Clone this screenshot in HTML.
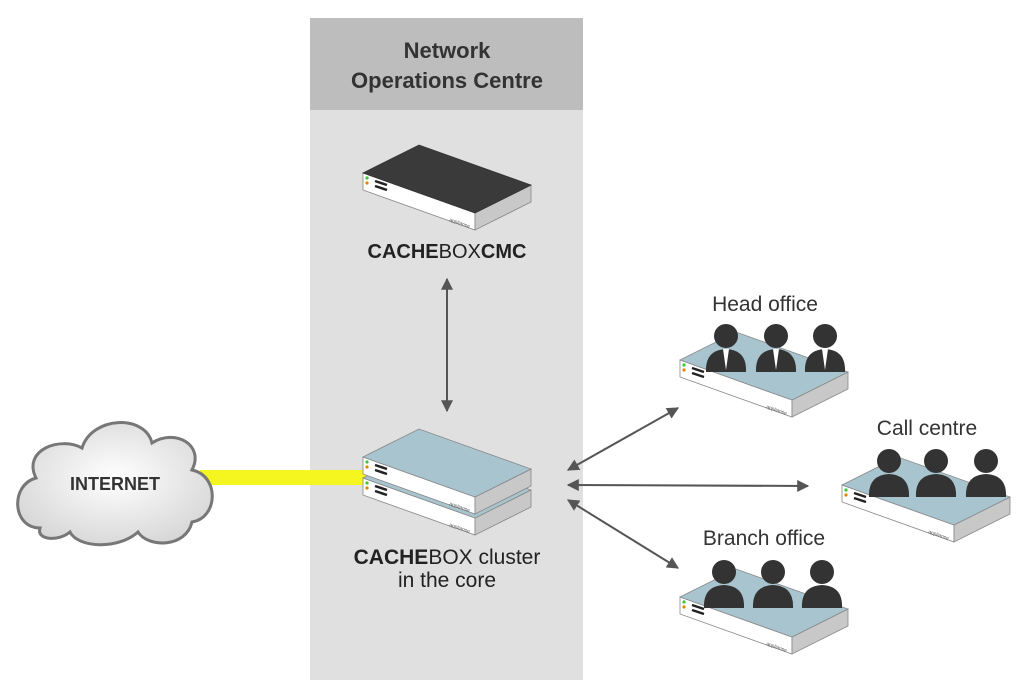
<!DOCTYPE html>
<html><head><meta charset="utf-8"><style>
html,body{margin:0;padding:0;background:#fff;}
svg{display:block;font-family:"Liberation Sans","DejaVu Sans",sans-serif;}
</style></head><body>
<svg width="1024" height="698" viewBox="0 0 1024 698" xmlns="http://www.w3.org/2000/svg">
<defs>
<radialGradient id="cg" cx="50%" cy="45%" r="60%"><stop offset="0" stop-color="#ffffff"/><stop offset="1" stop-color="#d6d6d6"/></radialGradient>
<marker id="ah" viewBox="0 0 10 10" refX="9" refY="5" markerWidth="6" markerHeight="6" orient="auto-start-reverse"><path d="M0,0 L10,5 L0,10 Z" fill="#555"/></marker>
<g id="boxbase">
 <path d="M0,0 L112,40 L112,57 L0,17 Z" fill="#fff" stroke="#888" stroke-width="0.8"/>
 <path d="M112,40 L168,12 L168,29 L112,57 Z" fill="#c8c8c8" stroke="#888" stroke-width="0.8"/>
 <circle cx="4" cy="5" r="1.6" fill="#3c3"/><circle cx="4" cy="10" r="1.6" fill="#d80"/>
 <path d="M12,8 L24,12 M12,13 L24,17" stroke="#222" stroke-width="2.5"/>
 <text x="86" y="48" font-size="5" fill="#555" transform="rotate(19 86 48)">applianse</text>
</g>
<g id="person"><circle cx="0" cy="-16" r="12" fill="#333"/><path d="M-20,20 Q-21,-2 0,-3 Q21,-2 20,20 Z" fill="#333"/></g>
</defs>
<rect x="310" y="18" width="273" height="662" fill="#e0e0e1"/>
<rect x="310" y="18" width="273" height="92" fill="#bdbdbd"/>
<text x="447" y="58" font-size="22" font-weight="bold" fill="#333" text-anchor="middle">Network</text>
<text x="447" y="88" font-size="22" font-weight="bold" fill="#333" text-anchor="middle">Operations Centre</text>

<g transform="translate(363,173)"><use href="#boxbase"/><path d="M0,0 L56,-28 L168,12 L112,40 Z" fill="#3a3a3a" stroke="#333" stroke-width="0.8"/></g>
<text x="447" y="258" font-size="20" fill="#222" text-anchor="middle"><tspan font-weight="bold">CACHE</tspan>BOX<tspan font-weight="bold">CMC</tspan></text>

<line x1="447" y1="279" x2="447" y2="411" stroke="#555" stroke-width="2" marker-start="url(#ah)" marker-end="url(#ah)"/>

<rect x="200" y="470" width="168" height="15" fill="#f5f520"/>
<path d="M40,528 C12,528 10,485 36,478 C22,450 60,436 82,448 C92,416 145,414 152,443 C175,428 205,445 192,470 C220,476 218,518 192,522 C186,548 148,548 138,532 C118,550 78,548 70,532 C58,542 36,540 40,528 Z" fill="url(#cg)" stroke="#777" stroke-width="3"/>
<text x="115" y="490" font-size="18" font-weight="bold" fill="#333" text-anchor="middle">INTERNET</text>

<g transform="translate(363,478)"><use href="#boxbase"/><path d="M0,0 L56,-28 L168,12 L112,40 Z" fill="#a8c4cf" stroke="#888" stroke-width="0.8"/></g>
<g transform="translate(363,457)"><use href="#boxbase"/><path d="M0,0 L56,-28 L168,12 L112,40 Z" fill="#a8c4cf" stroke="#888" stroke-width="0.8"/></g>
<text x="447" y="564" font-size="21" fill="#222" text-anchor="middle"><tspan font-weight="bold">CACHE</tspan>BOX cluster</text>
<text x="447" y="587" font-size="21" fill="#222" text-anchor="middle">in the core</text>

<line x1="568" y1="470" x2="678" y2="408" stroke="#555" stroke-width="2" marker-start="url(#ah)" marker-end="url(#ah)"/>
<line x1="568" y1="485" x2="808" y2="486" stroke="#555" stroke-width="2" marker-start="url(#ah)" marker-end="url(#ah)"/>
<line x1="568" y1="500" x2="678" y2="568" stroke="#555" stroke-width="2" marker-start="url(#ah)" marker-end="url(#ah)"/>

<text x="765" y="311" font-size="21" fill="#333" text-anchor="middle">Head office</text>
<g transform="translate(680,360)"><use href="#boxbase"/><path d="M0,0 L56,-28 L168,12 L112,40 Z" fill="#a8c4cf" stroke="#888" stroke-width="0.8"/></g>
<g transform="translate(726,352)"><use href="#person"/><path d="M-3,-3 L0,18 L3,-3 Z" fill="#fff"/></g>
<g transform="translate(776,352)"><use href="#person"/><path d="M-3,-3 L0,18 L3,-3 Z" fill="#fff"/></g>
<g transform="translate(825,352)"><use href="#person"/><path d="M-3,-3 L0,18 L3,-3 Z" fill="#fff"/></g>

<text x="927" y="435" font-size="21" fill="#333" text-anchor="middle">Call centre</text>
<g transform="translate(842,485)"><use href="#boxbase"/><path d="M0,0 L56,-28 L168,12 L112,40 Z" fill="#a8c4cf" stroke="#888" stroke-width="0.8"/></g>
<use href="#person" x="889" y="477"/>
<use href="#person" x="936" y="477"/>
<use href="#person" x="986" y="477"/>

<text x="764" y="545" font-size="21" fill="#333" text-anchor="middle">Branch office</text>
<g transform="translate(680,597)"><use href="#boxbase"/><path d="M0,0 L56,-28 L168,12 L112,40 Z" fill="#a8c4cf" stroke="#888" stroke-width="0.8"/></g>
<use href="#person" x="724" y="588"/>
<use href="#person" x="773" y="588"/>
<use href="#person" x="822" y="588"/>
</svg>
</body></html>
